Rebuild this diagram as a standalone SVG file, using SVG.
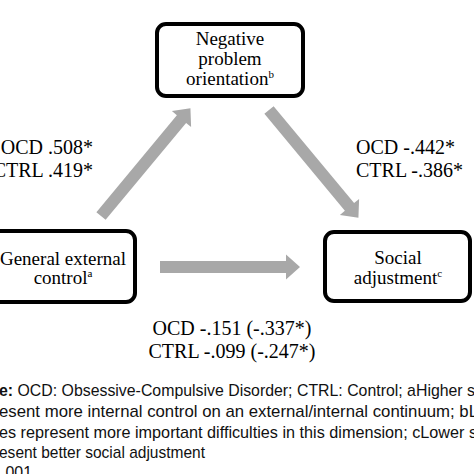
<svg xmlns="http://www.w3.org/2000/svg" width="474" height="474" viewBox="0 0 474 474">
<style>
.box{fill:#fff;stroke:#000;stroke-width:4}
.lbl{font-family:"Liberation Serif","Times New Roman",serif;font-size:19px;fill:#000;text-anchor:middle}
.coef{font-family:"Liberation Serif","Times New Roman",serif;font-size:20px;fill:#000}
.note{font-family:"Liberation Sans",Arial,sans-serif;font-size:17px;fill:#111}
.arr{fill:#a8a8a8}
</style>
<defs>
<path id="blk" d="M0,-6 H126 V-12.5 L140,0 L126,12.5 V6 H0 Z"/>
</defs>
<rect width="474" height="474" fill="#fff"/>
<g id="connectors">
<use href="#blk" class="arr" transform="translate(101,216) rotate(-50.3)"/>
<use href="#blk" class="arr" transform="translate(269,110) rotate(50.3)"/>
<use href="#blk" class="arr" transform="translate(160,267)"/>
</g>
<g id="node-npo">
<rect class="box" x="157" y="24" width="146" height="72" rx="9"/>
<text class="lbl" x="230" y="45">Negative</text>
<text class="lbl" x="230" y="65">problem</text>
<text class="lbl" x="230" y="85">orientation<tspan font-size="11" dy="-7">b</tspan></text>
</g>
<g id="node-gec">
<rect class="box" x="-9" y="231" width="144" height="71" rx="9"/>
<text class="lbl" x="63" y="265">General external</text>
<text class="lbl" x="63" y="284">control<tspan font-size="11" dy="-7">a</tspan></text>
</g>
<g id="node-sa">
<rect class="box" x="325" y="232" width="145" height="69" rx="9"/>
<text class="lbl" x="398" y="264">Social</text>
<text class="lbl" x="398" y="284">adjustment<tspan font-size="11" dy="-7">c</tspan></text>
</g>
<g id="coefs">
<text class="coef" x="93" y="154" text-anchor="end">OCD .508*</text>
<text class="coef" x="93" y="177" text-anchor="end">CTRL .419*</text>
<text class="coef" x="356" y="154">OCD -.442*</text>
<text class="coef" x="356" y="177">CTRL -.386*</text>
<text class="coef" x="232" y="335" text-anchor="middle">OCD -.151 (-.337*)</text>
<text class="coef" x="232" y="358" text-anchor="middle">CTRL -.099 (-.247*)</text>
</g>
<g id="note">
<text class="note" x="-1" y="396" textLength="476" lengthAdjust="spacingAndGlyphs"><tspan font-weight="bold">e:</tspan> OCD: Obsessive-Compulsive Disorder; CTRL: Control; aHigher s</text>
<text class="note" x="-1" y="417" textLength="479" lengthAdjust="spacingAndGlyphs">esent more internal control on an external/internal continuum; bL</text>
<text class="note" x="-1" y="438" textLength="478" lengthAdjust="spacingAndGlyphs">es represent more important difficulties in this dimension; cLower s</text>
<text class="note" x="-1" y="458" textLength="206" lengthAdjust="spacingAndGlyphs">esent better social adjustment</text>
<text class="note" x="1" y="478" textLength="31" lengthAdjust="spacingAndGlyphs">.001</text>
</g>
</svg>
